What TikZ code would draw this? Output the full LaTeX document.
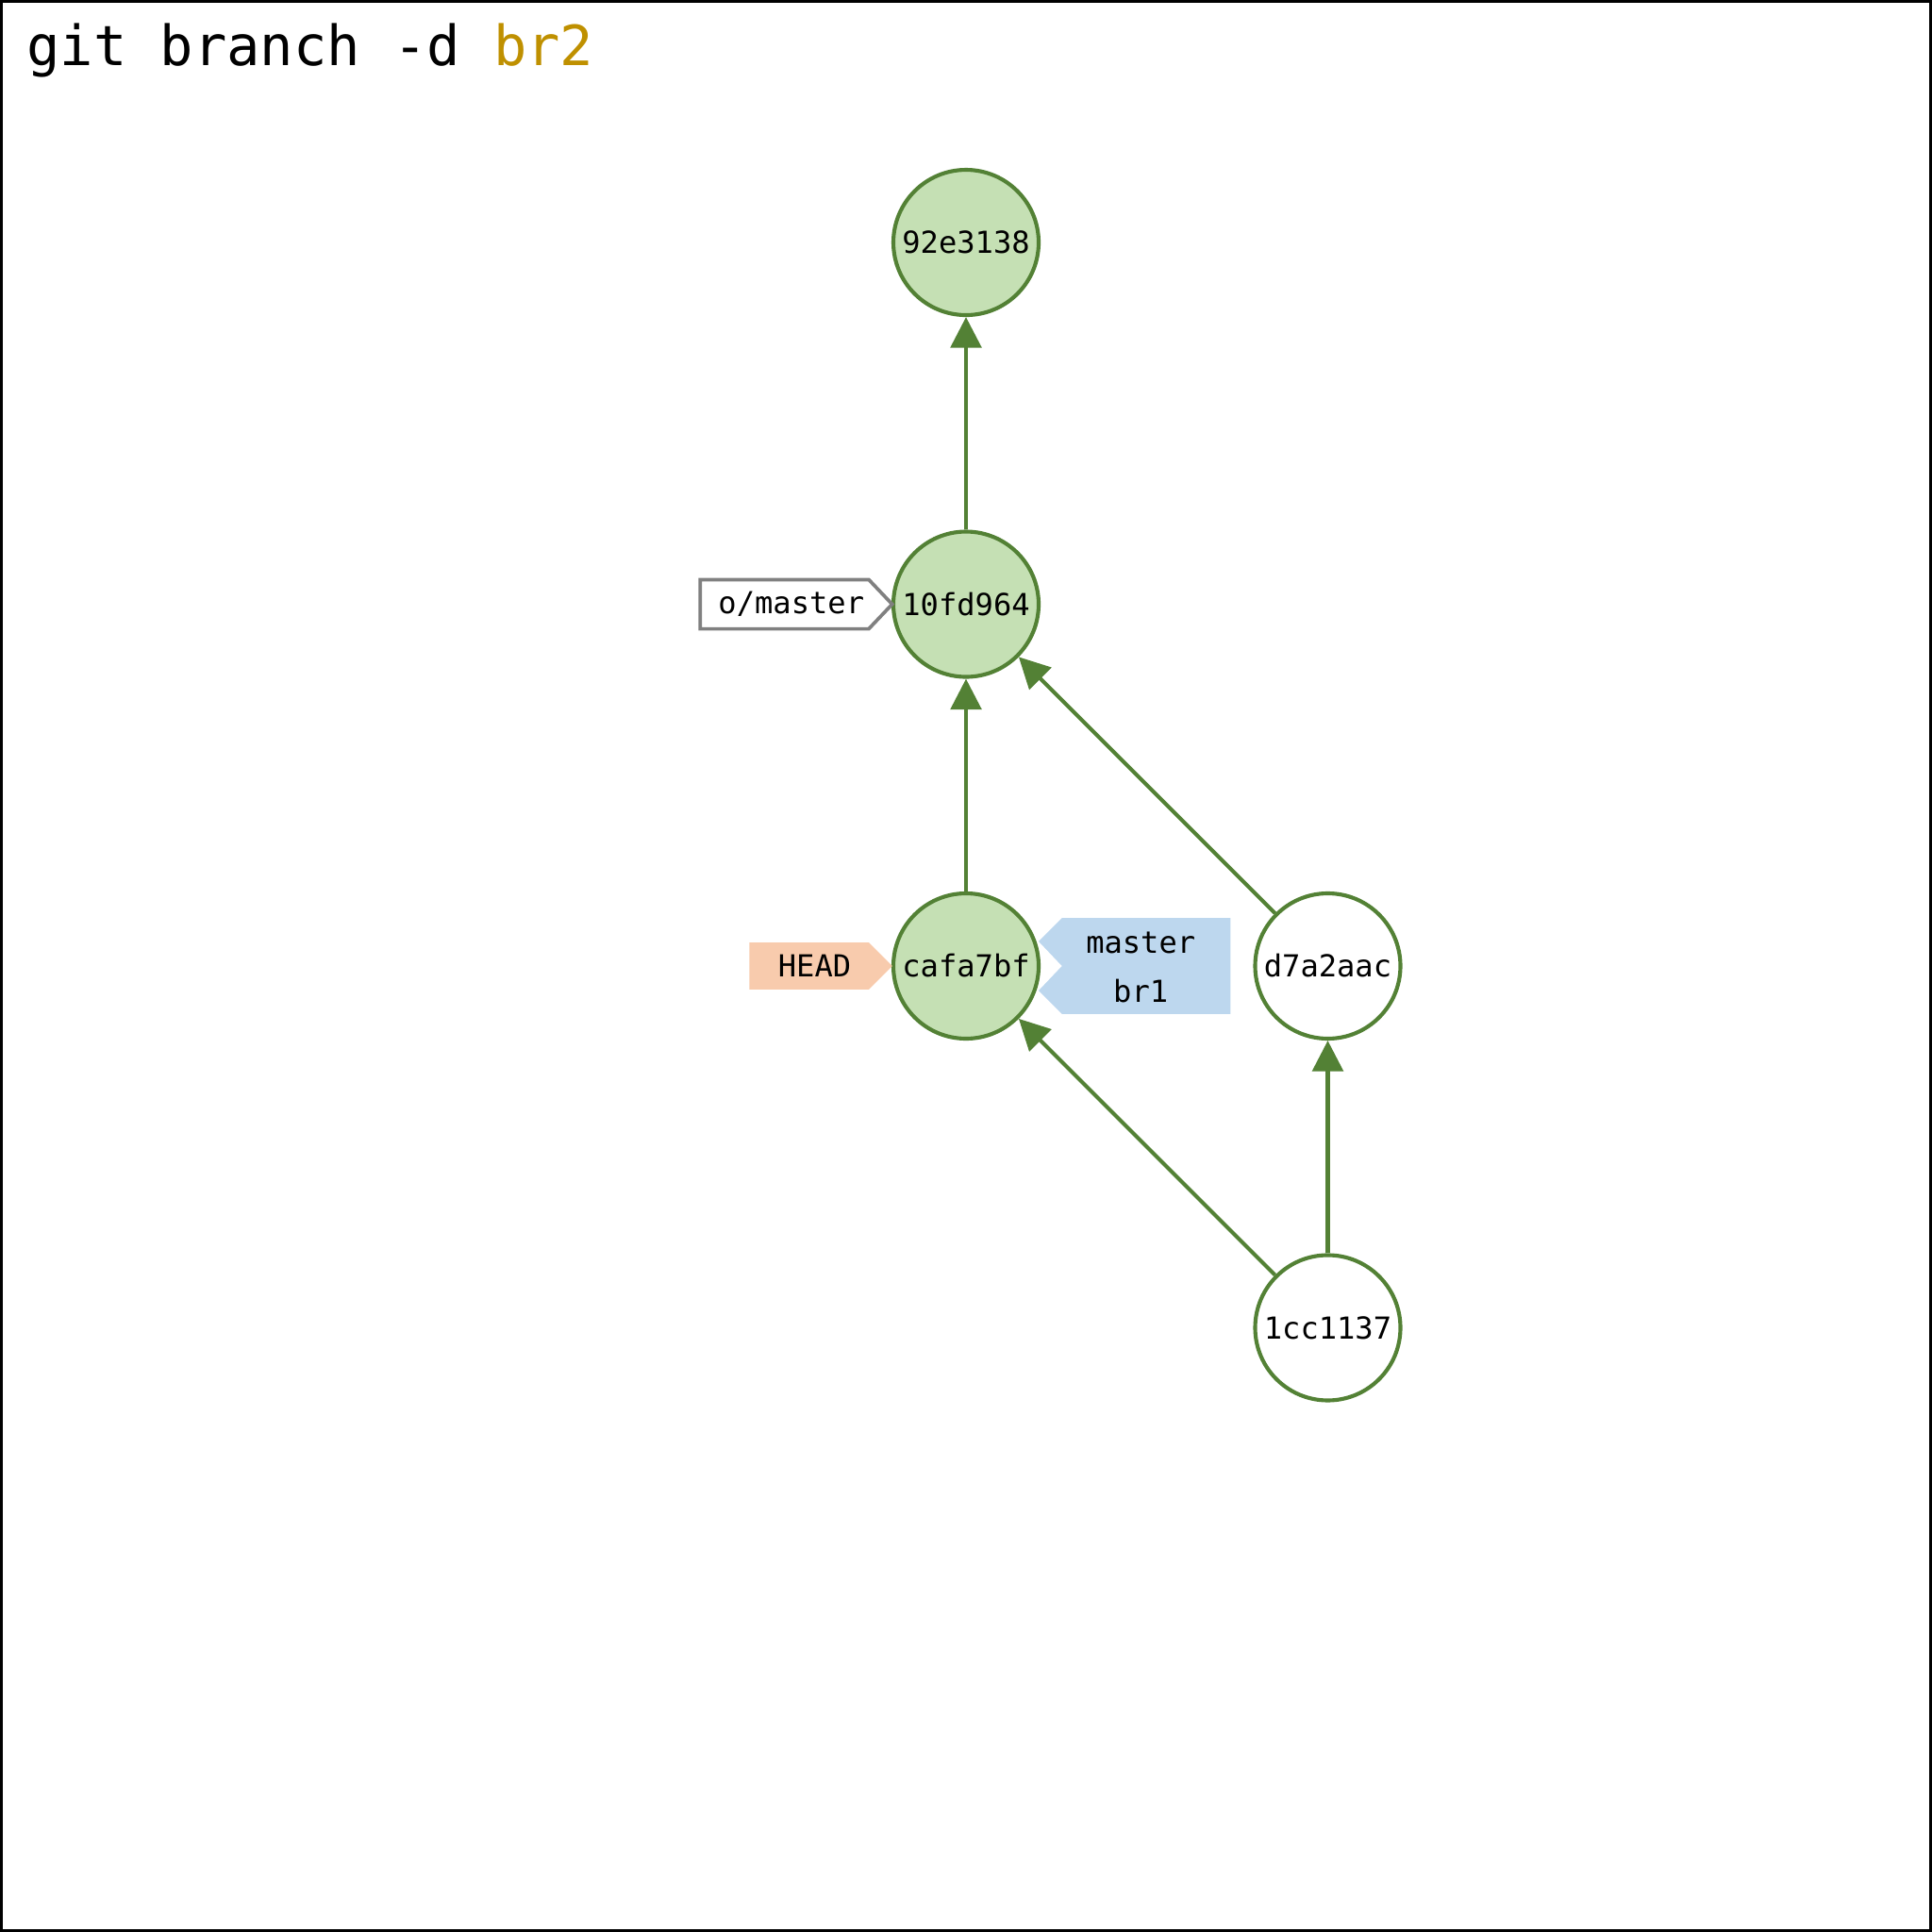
\documentclass[tikz,border=0pt]{standalone}
\usepackage{fontspec}
\setmonofont{DejaVu Sans Mono}
\usetikzlibrary{arrows.meta}
\definecolor{gfill}{HTML}{C5E0B4}
\definecolor{gline}{HTML}{538135}
\definecolor{headc}{HTML}{F8CBAD}
\definecolor{brc}{HTML}{BDD7EE}
\definecolor{cmdc}{HTML}{BF9000}
\tikzset{
 commit/.style={circle,draw=gline,line width=0.9pt,minimum size=1.18cm,inner sep=0pt,font=\ttfamily\fontsize{7}{8}\selectfont},
 done/.style={commit,fill=gfill},
 fresh/.style={commit,fill=white},
 link/.style={draw=gline,line width=0.9pt,-{Triangle[length=0.25cm,width=0.25cm]}},
 lbl/.style={font=\ttfamily\fontsize{7}{8}\selectfont}
}
\begin{document}
\begin{tikzpicture}[x=0.01cm,y=-0.01cm]
\draw[line width=0.6pt] (0,0) rectangle (1568,1568);
\node[anchor=west,font=\ttfamily\fontsize{12.8}{14}\selectfont,inner sep=0pt] (cmd) at (20,40) {git branch -d \textcolor{cmdc}{br2}};
\node[done] (c1) at (784,196) {92e3138};
\node[done] (c2) at (784,490) {10fd964};
\node[done] (c3) at (784,784) {cafa7bf};
\node[fresh] (c4) at (1078,784) {d7a2aac};
\node[fresh] (c5) at (1078,1078) {1cc1137};
\draw[link] (c2) -- (c1);
\draw[link] (c3) -- (c2);
\draw[link] (c4) -- (c2);
\draw[link] (c5) -- (c3);
\draw[link] (c5) -- (c4);
\draw[draw=gray,line width=0.8pt,fill=white] (568,470) -- (705,470) -- (724,490) -- (705,510) -- (568,510) -- cycle;
\node[lbl] (om) at (642,490) {o/master};
\fill[headc] (608,765) -- (705,765) -- (724,784) -- (705,803) -- (608,803) -- cycle;
\node[lbl] (hd) at (661,784) {HEAD};
\fill[brc] (862,745) -- (999,745) -- (999,823) -- (862,823) -- (843,804) -- (862,784) -- (843,764) -- cycle;
\node[lbl] (bm) at (926,765) {master};
\node[lbl] (bb) at (926,804) {br1};
\end{tikzpicture}
\end{document}
